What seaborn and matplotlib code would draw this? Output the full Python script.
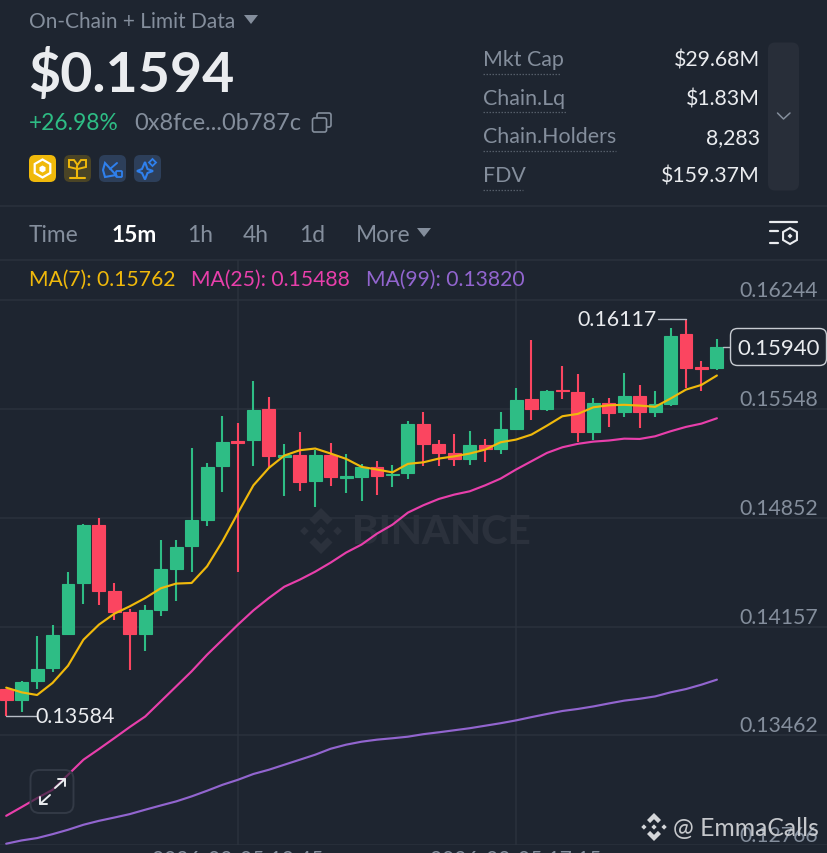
import numpy as np, pandas as pd
import matplotlib
matplotlib.use("Agg")
import matplotlib.pyplot as plt
import seaborn as sns
from matplotlib.patches import FancyBboxPatch, Polygon, RegularPolygon

# ---------- data (prices in units of 1e-5) ----------
opens = [13758,13690,13811,13890,14107,14433,14807,14381,14250,14109,14260,14526,14671,14835,15180,15339,15348,15544,15240,15254,15084,15250,15106,15112,15178,15122,15135,15452,15323,15265,15227,15316,15288,15420,15607,15544,15669,15655,15399,15582,15524,15631,15524,15575,16025,15812,15808]
closes = [13686,13805,13886,14103,14431,14807,14381,14250,14109,14260,14526,14665,14835,15176,15335,15329,15542,15243,15252,15082,15250,15109,15116,15176,15116,15133,15452,15323,15265,15227,15316,15291,15418,15605,15546,15657,15658,15399,15582,15521,15629,15527,15578,16014,15808,15801,15940]
highs = [13760,13811,14099,14167,14503,14814,14852,14435,14269,14292,14707,14707,15297,15201,15499,15454,15725,15623,15320,15397,15286,15331,15259,15195,15216,15190,15467,15524,15350,15386,15408,15356,15529,15680,15984,15665,15821,15771,15616,15616,15773,15697,15658,16065,16117,15854,15993]
lows = [13584,13609,13760,13864,14101,14303,14297,14201,13877,14003,14226,14318,14503,14796,15014,14503,15182,15171,14993,15023,14920,15054,15012,14961,14997,15046,15099,15182,15182,15180,15190,15205,15256,15416,15478,15531,15612,15335,15346,15431,15492,15422,15491,15563,15680,15663,15791]
ma7 = [13767,13737,13720,13797,13907,14073,14169,14239,14286,14339,14401,14431,14435,14541,14701,14882,15058,15169,15248,15282,15293,15261,15227,15176,15159,15141,15195,15205,15229,15243,15261,15286,15333,15350,15382,15439,15499,15514,15556,15569,15572,15567,15559,15612,15669,15699,15759]
ma25 = [12949,13005,13062,13115,13211,13307,13375,13445,13516,13583,13679,13775,13871,13977,14073,14169,14260,14339,14411,14456,14507,14565,14629,14680,14750,14807,14884,14931,14971,14999,15020,15058,15101,15159,15212,15265,15301,15323,15337,15344,15356,15354,15371,15403,15431,15452,15486]
ma99 = [12771,12792,12807,12832,12860,12892,12917,12938,12960,12988,13015,13041,13073,13109,13147,13179,13216,13243,13275,13307,13339,13377,13403,13422,13435,13444,13454,13470,13482,13495,13508,13524,13540,13558,13579,13599,13618,13631,13647,13666,13684,13696,13711,13737,13758,13786,13818]
price_ticks = [0.16244,0.15548,0.14852,0.14157,0.13462,0.12766]
date_ticks = [15,33]
date_labels = ["2026-02-05 12:45","2026-02-05 17:15"]
stats = [("Mkt Cap","$29.68M"),("Chain.Lq","$1.83M"),("Chain.Holders","8,283"),("FDV","$159.37M")]
periods = ["Time","15m","1h","4h","1d","More"]
ma_labels = ["MA(7): 0.15762","MA(25): 0.15488","MA(99): 0.13820"]

BG="#1E2530"; GRID="#2B323D"; GREEN="#2EBD85"; RED="#FB4560"; GRAY="#848E9C"; WHITE="#EAECEF"
YEL="#F0B90B"; PINK="#E83FAB"; PUR="#9265CF"

sns.set_theme(style="dark", rc={"figure.facecolor":BG,"axes.facecolor":BG,"savefig.facecolor":BG})
plt.rcParams["font.family"]=["Lato","DejaVu Sans"]

W,H=828,854
fig=plt.figure(figsize=(W/100,H/100),dpi=100)
under=fig.add_axes([0,0,1,1],zorder=0); under.set_xlim(0,W); under.set_ylim(H,0); under.axis("off")
ax=fig.add_axes([0,8.5/H,1,(845-260)/H],zorder=1); ax.patch.set_alpha(0)
top=fig.add_axes([0,0,1,1],zorder=2); top.set_xlim(0,W); top.set_ylim(H,0); top.axis("off"); top.patch.set_alpha(0)

# ---------- watermark ----------
def diamond(a,cx,cy,s,color,**k):
    a.add_patch(Polygon([(cx,cy-s),(cx+s,cy),(cx,cy+s),(cx-s,cy)],closed=True,fc=color,ec="none",**k))
def logo(a,cx,cy,r,color,z=1):
    d=r*0.19
    diamond(a,cx-r*0.72,cy,d,color,zorder=z); diamond(a,cx+r*0.72,cy,d,color,zorder=z); diamond(a,cx,cy,d,color,zorder=z)
    for sgn in (-1,1):
        a.add_patch(Polygon([(cx,cy+sgn*r),(cx+r*.5,cy+sgn*r*.5),(cx+r*.28,cy+sgn*r*.28),(cx,cy+sgn*r*.56),(cx-r*.28,cy+sgn*r*.28),(cx-r*.5,cy+sgn*r*.5)],fc=color,ec="none",zorder=z))
logo(under,321,532,23,"#2B313C")
under.text(352,533,"BINANCE",color="#2B313C",fontsize=29,fontweight="black",va="center",ha="left")

# ---------- chart ----------
idx=np.arange(len(opens))
df=pd.DataFrame({"i":idx,"o":np.array(opens)/1e5,"c":np.array(closes)/1e5,"h":np.array(highs)/1e5,"l":np.array(lows)/1e5,
                 "ma7":np.array(ma7)/1e5,"ma25":np.array(ma25)/1e5,"ma99":np.array(ma99)/1e5})
up=df.c>=df.o
cols=np.where(up,GREEN,RED)
ax.vlines(df.i,df.l,df.h,colors=cols,linewidth=1.5,zorder=3)
ax.bar(df.i,(df.c-df.o).abs(),bottom=df[["o","c"]].min(axis=1),width=0.84,color=cols,edgecolor=cols,linewidth=0.8,zorder=4)
for col,c in (("ma99",PUR),("ma25",PINK),("ma7",YEL)):
    sns.lineplot(data=df,x="i",y=col,ax=ax,color=c,linewidth=1.55,zorder=5,legend=False)
step=15.45; x0=6.2
ax.set_xlim((0-x0)/step,(W-x0)/step)
pp=(0.16244-0.12766)/(845-300)
ax.set_ylim(0.12766,0.12766+(845-260)*pp)
ax.set_xticks(date_ticks,date_labels); ax.set_yticks(price_ticks,[f"{v:.5f}" for v in price_ticks])
ax.set_xlabel(""); ax.set_ylabel("")
for s in ax.spines.values(): s.set_visible(False)
ax.grid(True,color=GRID,linewidth=1.1,zorder=1); ax.set_axisbelow(True)
ax.yaxis.tick_right()
ax.tick_params(axis="y",length=0,pad=-7.2,labelsize=15.3,labelcolor=GRAY)
for t in ax.get_yticklabels(): t.set_ha("right"); t.set_va("bottom")
ax.tick_params(axis="x",length=0,pad=3.2,labelsize=15,labelcolor=GRAY)

# high / low / last annotations
ax.plot([df.i[44]-1.8,df.i[44]],[df.h[44]]*2,color="#B7BDC6",lw=1,zorder=6)
ax.annotate("0.16117",(df.i[44]-1.87,df.h[44]),ha="right",va="center",color=WHITE,fontsize=15.4,zorder=6)
ax.plot([df.i[0],df.i[0]+1.9],[df.l[0]]*2,color="#B7BDC6",lw=1,zorder=6)
ax.annotate("0.13584",(df.i[0]+1.9,df.l[0]),ha="left",va="center",color=WHITE,fontsize=15.4,zorder=6)
ax.plot([df.i[46]+0.4,df.i[46]+0.85],[df.c[46]]*2,color="#B7BDC6",lw=1,zorder=6)
top.add_patch(FancyBboxPatch((730.5,329.5),96,37,boxstyle="round,pad=0,rounding_size=7",fc=BG,ec="#C7CBD1",lw=1))
top.text(778.5,349,"0.15940",color=WHITE,fontsize=16,ha="center",va="center")

# ---------- header ----------
for y in (207,260.5):
    top.plot([0,W],[y,y],color=GRID,lw=1.1)
top.text(29,22.5,"On-Chain + Limit Data",color=GRAY,fontsize=15,va="center")
top.add_patch(Polygon([(244,16),(258,16),(251,25)],fc=GRAY,ec="none"))
top.text(28,74.5,"$0.1594",color=WHITE,fontsize=40,fontweight="bold",va="center")
top.text(29,124,"+26.98%",color=GREEN,fontsize=16.4,va="center")
top.text(134,124,"0x8fce...0b787c",color=GRAY,fontsize=17,va="center")
top.add_patch(FancyBboxPatch((317,114),14,14,boxstyle="round,pad=0,rounding_size=2",fc="none",ec=GRAY,lw=1.2))
top.add_patch(FancyBboxPatch((312.5,119),14,14,boxstyle="round,pad=0,rounding_size=2",fc=BG,ec=GRAY,lw=1.2))
for x,c in ((29,"#F0B90B"),(64,"#4A4426"),(99,"#2D3F5A"),(134,"#2D3F5A")):
    top.add_patch(FancyBboxPatch((x,156),27,27,boxstyle="round,pad=0,rounding_size=6",fc=c,ec="none"))
top.add_patch(RegularPolygon((42.5,169.5),6,radius=9,fc="none",ec="white",lw=1.6))
top.add_patch(RegularPolygon((42.5,170),6,radius=3.5,fc="white",ec="none"))
top.plot([77.5,77.5],[167,178],color=YEL,lw=1.5); top.plot([70,85],[178.5,178.5],color=YEL,lw=1.5)
top.add_patch(Polygon([(77.5,170),(69,168),(69,161),(74,161),(77.5,166),(81,161),(86,161),(86,168)],fc="none",ec=YEL,lw=1.4))
top.add_patch(Polygon([(105,164),(116,176),(105,178),(103,171)],fc="none",ec="#2F80ED",lw=1.5))
top.plot([110,117],[170,164],color="#2F80ED",lw=1.4)
top.add_patch(FancyBboxPatch((116,172),6,6,boxstyle="round,pad=0,rounding_size=1",fc="none",ec="#2F80ED",lw=1.3))
top.add_patch(Polygon([(145,163),(147.5,170),(153,172),(147.5,174),(145,180.5),(142,174),(137,172),(142,170)],fc="none",ec="#2F80ED",lw=1.5))
top.add_patch(Polygon([(152.5,160),(156,163.5),(152.5,167),(149,163.5)],fc="none",ec="#2F80ED",lw=1.3))

ys=[60,99,137,176]; ul=[74.5,113,151.5,190.5]; ue=[560,566,616,523]
for (lab,val),y,u,e in zip(stats,ys,ul,ue):
    top.text(483,y,lab,color=GRAY,fontsize=15.4,va="center")
    top.text(760,y+0.7,val,color=WHITE,fontsize=15.3,va="center",ha="right")
    top.plot([483,e],[u,u],color="#555D69",lw=0.9,ls=(0,(1.2,1.2)))
top.add_patch(FancyBboxPatch((768,43.5),31,148,boxstyle="round,pad=0,rounding_size=7",fc="#282E39",ec="none"))
top.plot([777.5,783.5,790],[114,120,114],color=GRAY,lw=1.1)

# ---------- toolbar ----------
xs=[29,112,187,243,299,355.5]
for s,x in zip(periods,xs):
    act=s=="15m"
    top.text(x,235,s,color="white" if act else GRAY,fontsize=16.4,fontweight="bold" if act else "normal",va="center")
top.add_patch(Polygon([(417,229),(431,229),(424,238),],fc=GRAY,ec="none"))
top.plot([770,797],[223,223],color=WHITE,lw=1.6)
top.plot([770,778],[232,232],color=WHITE,lw=1.6); top.plot([770,778],[243.5,243.5],color=WHITE,lw=1.6)
top.add_patch(RegularPolygon((790,237),6,radius=8,fc="none",ec=WHITE,lw=1.5))
top.add_patch(Polygon([(790,234.5),(792.5,237),(790,239.5),(787.5,237)],fc=WHITE,ec="none"))

for s,x,c in zip(ma_labels,(29,191,366),(YEL,PINK,PUR)):
    top.text(x,279.8,s,color=c,fontsize=15.2,va="center")

# ---------- expand button ----------
top.add_patch(FancyBboxPatch((30.5,771),43,43,boxstyle="round,pad=0,rounding_size=9",fc=(0.118,0.145,0.188,0.65),ec="#333A46",lw=1.4))
top.plot([55,65],[789,780],color=WHITE,lw=1.4); top.plot([58,65,65],[780,780,787],color=WHITE,lw=1.4)
top.plot([40,50],[805,796],color=WHITE,lw=1.4); top.plot([40,40,47],[798,805,805],color=WHITE,lw=1.4)

# ---------- author watermark ----------
logo(top,654,828,14,"#D4D6D9",z=5)
top.text(673,829,"@ EmmaCalls",color="#D4D6D9",fontsize=17.8,va="center",ha="left",alpha=0.92,zorder=6)

fig.savefig("out.png",dpi=100,facecolor=BG)
